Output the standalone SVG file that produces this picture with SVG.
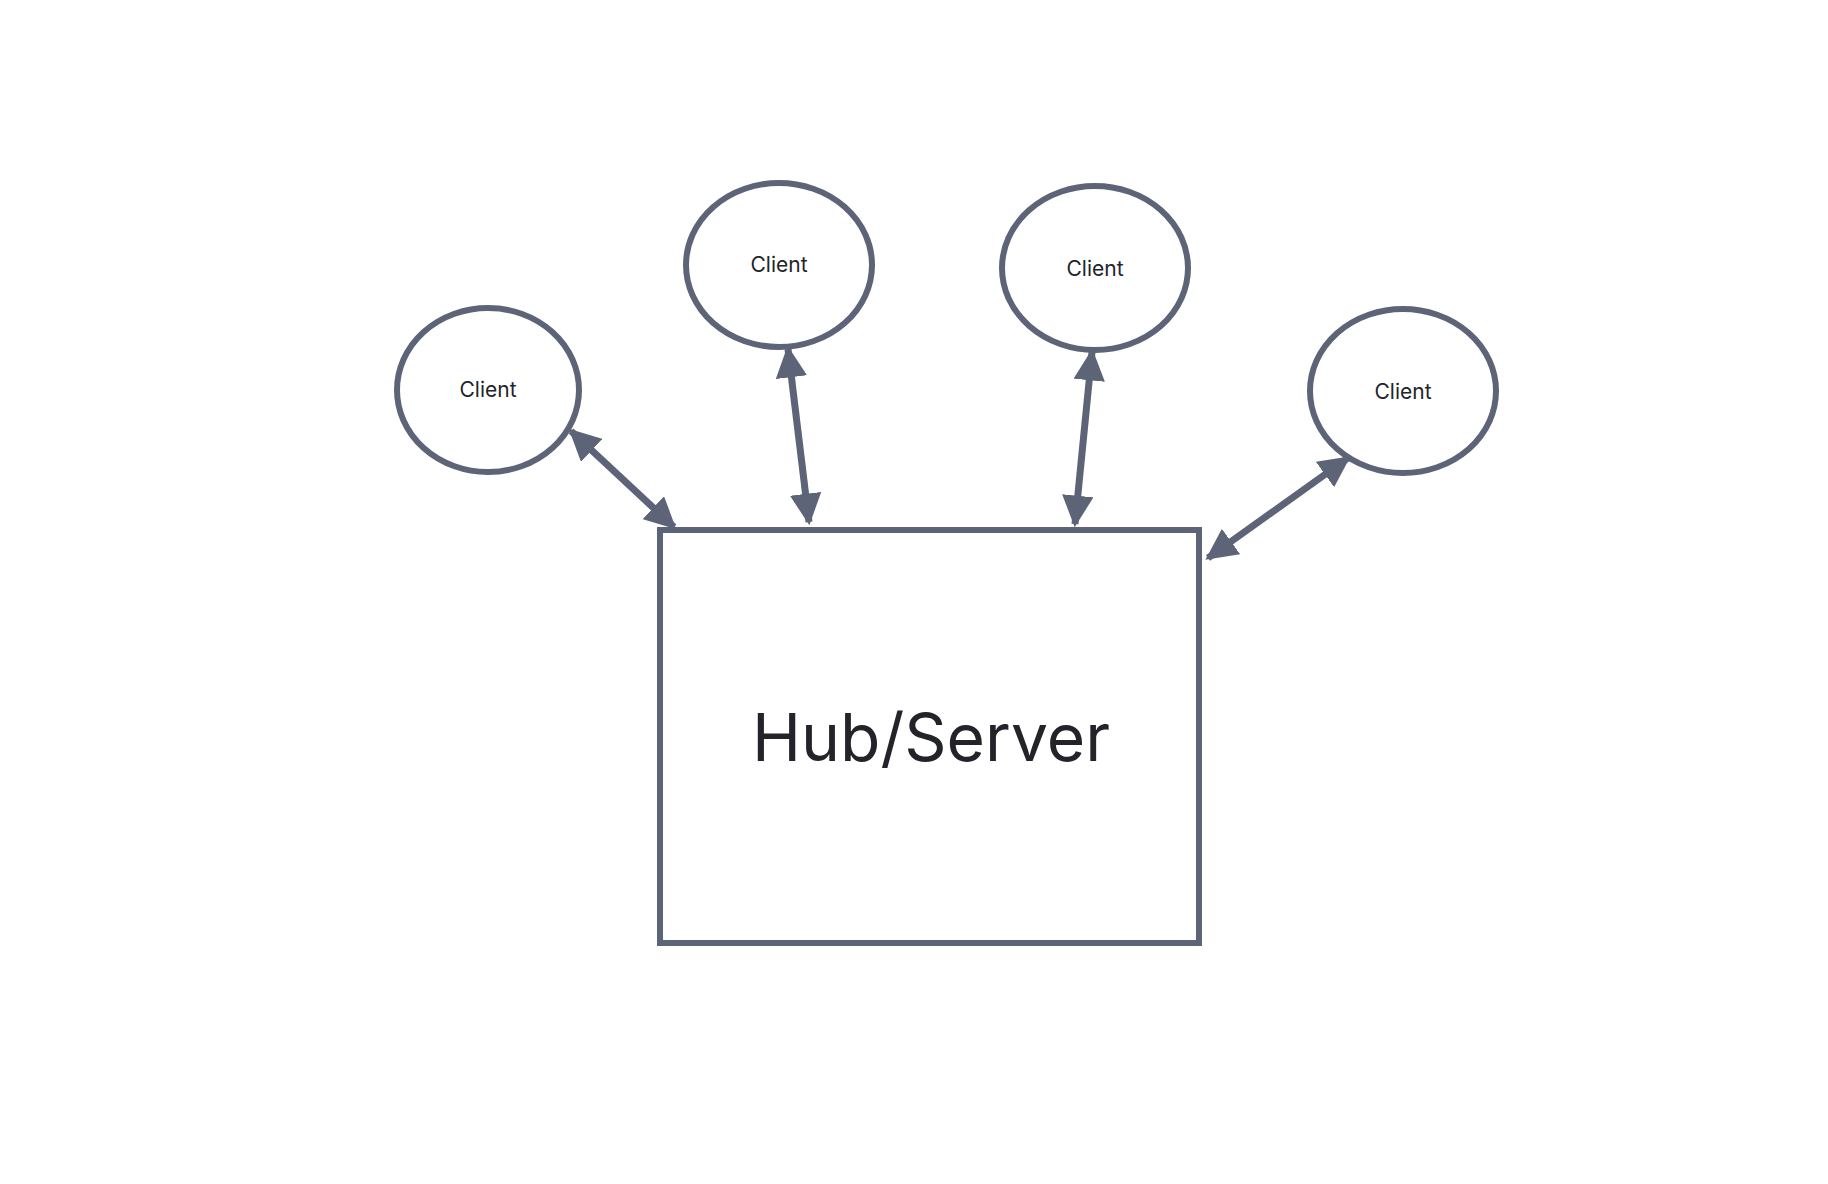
<svg xmlns="http://www.w3.org/2000/svg" width="1828" height="1184" viewBox="0 0 1828 1184">
<style>
.n{fill:#fff;stroke:#5e6477;stroke-width:6}
.c{stroke:#5e6477;stroke-width:7;fill:none}
.t{font-family:"Inter","Liberation Sans",sans-serif;fill:#22242a;text-anchor:middle}
</style>
<defs>
<marker id="a" viewBox="0 0 10 10" refX="9" refY="5" markerWidth="4.5" markerHeight="4.5" orient="auto-start-reverse" markerUnits="strokeWidth">
<path d="M0,0L10,5L0,10z" fill="#5e6477"/>
</marker>
</defs>
<rect width="1828" height="1184" fill="#fff"/>
<g id="hub"><rect class="n" x="660" y="530" width="539" height="413"/><text class="t" x="931" y="761" font-size="66">Hub/Server</text></g>
<g id="c1"><ellipse class="n" cx="488" cy="390" rx="91" ry="82"/><text class="t" x="488" y="397" font-size="21">Client</text></g>
<g id="c2"><ellipse class="n" cx="779" cy="265" rx="93" ry="82"/><text class="t" x="779" y="272" font-size="21">Client</text></g>
<g id="c3"><ellipse class="n" cx="1095" cy="268" rx="93" ry="82"/><text class="t" x="1095" y="276" font-size="21">Client</text></g>
<g id="c4"><ellipse class="n" cx="1403" cy="391" rx="93" ry="82"/><text class="t" x="1403" y="399" font-size="21">Client</text></g>
<g id="connectors">
<line class="c" x1="571" y1="431" x2="674" y2="527" marker-start="url(#a)" marker-end="url(#a)"/>
<line class="c" x1="788" y1="349" x2="809" y2="522" marker-start="url(#a)" marker-end="url(#a)"/>
<line class="c" x1="1092" y1="352" x2="1075" y2="524" marker-start="url(#a)" marker-end="url(#a)"/>
<line class="c" x1="1348" y1="458" x2="1208" y2="558" marker-start="url(#a)" marker-end="url(#a)"/>
</g>
</svg>
